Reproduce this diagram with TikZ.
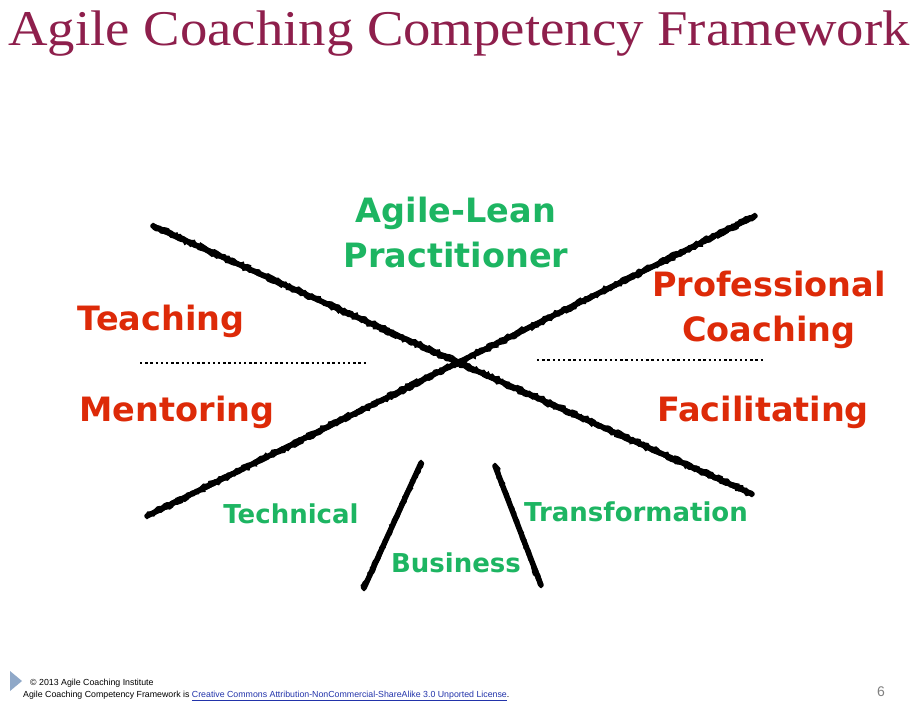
\documentclass[tikz,border=0pt]{standalone}
\usepackage{fontspec}
\setmainfont{DejaVu Sans}
\newfontfamily\titlefont{Liberation Serif}
\newfontfamily\footfont{Liberation Sans}
\usetikzlibrary{decorations.pathmorphing}
\definecolor{titlecol}{HTML}{8E1F4C}
\definecolor{redcol}{HTML}{DD2A08}
\definecolor{greencol}{HTML}{1DB562}
\definecolor{linkcol}{HTML}{2233AA}
\definecolor{tricol}{HTML}{8FA8C8}
\begin{document}
\begin{tikzpicture}[x=1pt,y=-1pt,
  redlab/.style={text=redcol,font=\fontsize{33.5}{36}\selectfont\bfseries,anchor=base,inner sep=0pt},
  greenlab/.style={text=greencol,font=\fontsize{33.5}{36}\selectfont\bfseries,anchor=base,inner sep=0pt},
  smallgreen/.style={text=greencol,font=\fontsize{26}{28}\selectfont\bfseries,anchor=base,inner sep=0pt},
  chalk/.style={draw=black,line width=5.5pt,line cap=round},
  chalkrough/.style={draw=black,line width=1.8pt,line cap=round,decorate,decoration={random steps,segment length=2.5pt,amplitude=1.3pt}},
  dotline/.style={draw=black,line width=2.6pt,dash pattern=on 2.4pt off 2.8pt}
]
\useasboundingbox (0,0) rectangle (916,702);
\fill[white] (0,0) rectangle (916,702);
% title
\node[anchor=base west,inner sep=0pt,text=titlecol,font=\titlefont\fontsize{50}{54}\selectfont] (title) at (8,45) {\scalebox{1.095}[1]{Agile Coaching Competency Framework}};
% line endpoints
\coordinate (a1) at (153,226); \coordinate (a2) at (752,494);
\coordinate (b1) at (147,516); \coordinate (b2) at (755,216);
\coordinate (c1) at (421,463); \coordinate (c2) at (364,588);
\coordinate (d1) at (495,466); \coordinate (d2) at (541,585);
\foreach \p/\q in {a1/a2,b1/b2,c1/c2,d1/d2}{
  \path[chalk] (\p) -- (\q);
  \path[chalkrough] ([yshift=-2.5pt]\p) -- ([yshift=-2.5pt]\q);
  \path[chalkrough] ([yshift=2.5pt]\p) -- ([yshift=2.5pt]\q);
  \path[chalkrough] ([xshift=2.3pt]\p) -- ([xshift=-2.3pt]\q);
}
% dotted separators
\coordinate (e1) at (140,363); \coordinate (e2) at (368,363);
\coordinate (f1) at (537,360); \coordinate (f2) at (763,360);
\path[dotline] (e1) -- (e2);
\path[dotline] (f1) -- (f2);
% labels
\node[greenlab] (agile) at (456,222) {Agile-Lean};
\node[greenlab] (pract) at (456,267) {Practitioner};
\node[redlab] (teach) at (161,330) {Teaching};
\node[redlab] (mentor) at (177,421) {Mentoring};
\node[redlab] (prof) at (769,296) {Professional};
\node[redlab] (coach) at (769,341) {Coaching};
\node[redlab] (facil) at (763,421) {Facilitating};
\node[smallgreen] (tech) at (291,523) {Technical};
\node[smallgreen] (trans) at (636,521) {Transformation};
\node[smallgreen] (bus) at (456,572) {Business};
% footer
\fill[tricol] (10,671) -- (22,681) -- (10,691) -- cycle;
\node[anchor=base west,inner sep=0pt,font=\footfont\fontsize{8.8}{10}\selectfont] (copy) at (30,685) {\textcopyright{} 2013 Agile Coaching Institute};
\node[anchor=base west,inner sep=0pt,font=\footfont\fontsize{8.8}{10}\selectfont] (lic) at (23,697) {Agile Coaching Competency Framework is \textcolor{linkcol}{\underline{Creative Commons Attribution-NonCommercial-ShareAlike 3.0 Unported License}}.};
\node[anchor=base,inner sep=0pt,text=gray,font=\footfont\fontsize{14}{16}\selectfont] (page) at (881,696) {6};
\end{tikzpicture}
\end{document}
